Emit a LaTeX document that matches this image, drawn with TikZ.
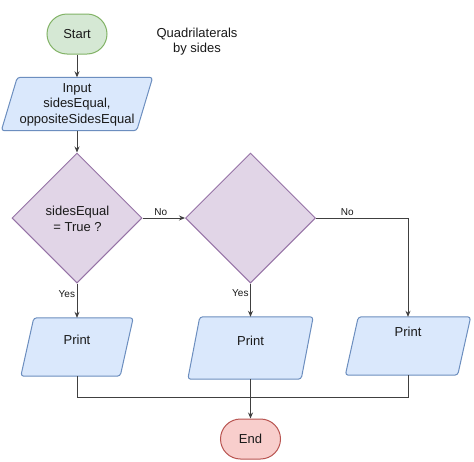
\documentclass[tikz,border=0pt]{standalone}
\usepackage{fontspec}
\setmainfont{Liberation Sans}
\usetikzlibrary{shapes.geometric,arrows.meta}
\definecolor{gfill}{HTML}{D5E8D4}
\definecolor{gline}{HTML}{82B366}
\definecolor{bfill}{HTML}{DAE8FC}
\definecolor{bline}{HTML}{6C8EBF}
\definecolor{pfill}{HTML}{E1D5E7}
\definecolor{pline}{HTML}{9673A6}
\definecolor{rfill}{HTML}{F8CECC}
\definecolor{rline}{HTML}{B85450}
\definecolor{conn}{HTML}{404040}
\tikzset{
  term/.style={rectangle, rounded corners=20pt, minimum width=60pt, minimum height=40pt, line width=1pt, inner sep=0pt},
  parabox/.style={rectangle, inner sep=0pt},
  parashape/.style={fill=bfill, draw=bline, line width=1pt, rounded corners=3pt},
  dia/.style={diamond, aspect=1, minimum width=130pt, minimum height=130pt, fill=pfill, draw=pline, line width=1pt, inner sep=0pt},
  txt/.style={font=\fontsize{13pt}{15.5pt}\selectfont, text=black!90, align=center, inner sep=0pt},
  lbl/.style={font=\fontsize{10pt}{12pt}\selectfont, text=black!90, inner sep=1.5pt},
  line/.style={draw=conn, line width=0.9pt},
  arr/.style={line, -{Stealth[length=6pt,width=5pt]}}
}
\newcommand\paradraw[2]{%
  \draw[parashape] ([xshift=-#2]#1.south west) -- ([xshift=-#2]#1.south east)
    -- ([xshift=#2]#1.north east) -- ([xshift=#2]#1.north west) -- cycle;}
\begin{document}
\begin{tikzpicture}[x=1pt,y=-1pt]
\useasboundingbox (0,0) rectangle (474,461);
\fill[white] (0,0) rectangle (474,461);

\node[term, fill=gfill, draw=gline, txt] (start) at (77,34) {Start};
\node[txt] (title) at (197,41.5) {Quadrilaterals\\by sides};

\node[parabox, minimum width=135pt, minimum height=53pt] (input) at (77,104) {};
\paradraw{input}{8pt}
\node[txt] (inputtxt) at (77,104.5) {Input\\sidesEqual,\\oppositeSidesEqual};

\node[dia] (d1) at (77,218) {};
\node[txt] (d1txt) at (77.5,219) {sidesEqual\\= True ?};
\node[dia] (d2) at (250.5,218) {};

\node[parabox, minimum width=99pt, minimum height=58pt] (p1) at (77,347) {};
\paradraw{p1}{6.5pt}
\node[txt] (p1txt) at (77,340) {Print};
\node[parabox, minimum width=113pt, minimum height=62pt] (p2) at (250.5,348) {};
\paradraw{p2}{6pt}
\node[txt] (p2txt) at (250.5,341) {Print};
\node[parabox, minimum width=112pt, minimum height=58pt] (p3) at (408,346) {};
\paradraw{p3}{6.5pt}
\node[txt] (p3txt) at (408,332) {Print};

\node[term, fill=rfill, draw=rline, txt] (end) at (250.5,439) {End};

\draw[arr] (start) -- (input);
\draw[arr] (input) -- (d1);
\draw[arr] (d1) -- node[lbl, above, pos=0.43] {No} (d2);
\draw[arr] (d1) -- node[lbl, left, pos=0.32] {Yes} (p1);
\draw[arr] (d2) -- node[lbl, left, pos=0.3] {Yes} (p2);
\draw[arr] (d2.east) -| node[lbl, above, pos=0.17] {No} (p3.north);
\draw[line] (p1.south) -- ++(0,21) -| (p3.south);
\draw[arr] (p2) -- (end);
\end{tikzpicture}
\end{document}
